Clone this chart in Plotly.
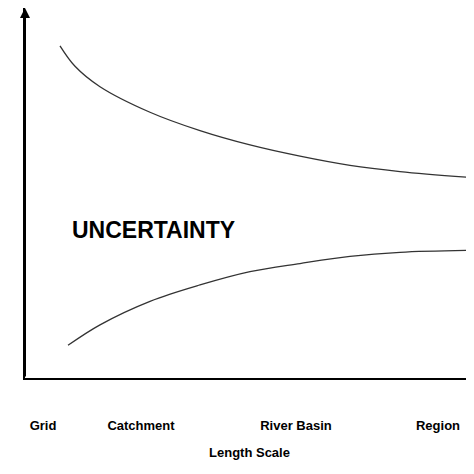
import plotly.graph_objects as go

upper_x = [35, 50, 75, 125, 175, 225, 275, 325, 375, 449]
upper_y = [325, 305, 285, 260, 242, 228, 217, 208, 202, 196]
lower_x = [43, 75, 125, 175, 225, 275, 325, 375, 449]
lower_y = [32, 52, 75, 91, 104, 112, 119, 123, 125]
tick_pos = [18, 116, 271, 413]
tick_text = ["Grid", "Catchment", "River Basin", "Region"]

fig = go.Figure()
line = dict(color="#333333", width=1.3, shape="spline")
fig.add_trace(go.Scatter(x=upper_x, y=upper_y, mode="lines", line=line))
fig.add_trace(go.Scatter(x=lower_x, y=lower_y, mode="lines", line=line))

fig.add_annotation(x=45, y=145, xref="x", yref="y", text="<b>UNCERTAINTY</b>",
                   showarrow=False, xanchor="left",
                   font=dict(size=23, color="black", family="Liberation Sans"))
fig.add_annotation(x=0, y=362, ax=0, ay=0, axref="x", ayref="y", xref="x", yref="y",
                   showarrow=True, arrowhead=2, arrowsize=1, arrowwidth=2, arrowcolor="black", text="")

fig.update_layout(
    width=466, height=466, showlegend=False,
    margin=dict(l=17, r=0, t=0, b=96),
    plot_bgcolor="white", paper_bgcolor="white",
    font=dict(family="Liberation Sans", color="black"),
    xaxis=dict(range=[0, 449], showgrid=False, zeroline=False, showline=True,
               linecolor="black", linewidth=2, tickvals=tick_pos, ticktext=[f"<b>{t}</b>" for t in tick_text],
               ticks="", ticklabelstandoff=34, tickfont=dict(size=13),
               title=dict(text="<b>Length Scale</b>", font=dict(size=13), standoff=16)),
    yaxis=dict(range=[0, 362], showgrid=False, zeroline=False, showline=True,
               linecolor="black", linewidth=2, showticklabels=False, ticks=""),
)
fig.write_html("out.html")
